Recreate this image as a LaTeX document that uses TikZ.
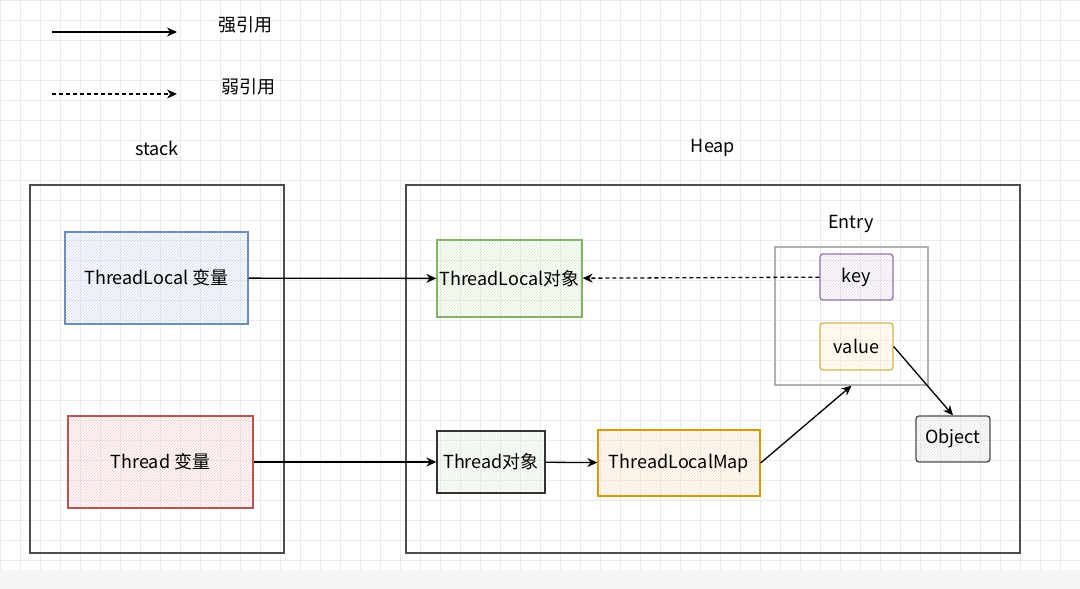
\documentclass[tikz,border=0pt]{standalone}
\usepackage{fontspec}
\setmainfont{Noto Sans CJK SC}
\usetikzlibrary{patterns,arrows.meta}
\begin{document}
\begin{tikzpicture}[x=1pt,y=-1pt,
  txt/.style={font=\fontsize{18}{20}\selectfont},
  box/.style={draw,line width=1.3pt,txt,inner sep=0pt},
  arr/.style={-{Stealth[length=10pt,width=9pt]},line width=1.3pt},
  darr/.style={arr,dash pattern=on 4pt off 3pt}]
\useasboundingbox (0,0) rectangle (1080,589);
\fill[white] (0,0) rectangle (1080,589);
\foreach \i in {0,20,...,1080} \draw[black!8,line width=0.6pt] (\i,0) -- (\i,570);
\foreach \i in {0,20,...,560} \draw[black!8,line width=0.6pt] (0,\i) -- (1080,\i);
\fill[black!4] (0,570) rectangle (1080,589);
% legend
\coordinate (l1a) at (52,32); \coordinate (l1b) at (177,32);
\coordinate (l2a) at (52,94); \coordinate (l2b) at (177,94);
\draw[arr] (l1a) -- (l1b);
\draw[darr] (l2a) -- (l2b);
\node[txt] (t1) at (245,25) {强引用};
\node[txt] (t2) at (248,87) {弱引用};
\node[txt] (stk) at (157,148) {stack};
\node[txt] (hp) at (713,148) {Heap};
% containers
\node[draw=black!70,line width=1.3pt,minimum width=254,minimum height=368] (stack) at (157,369) {};
\node[draw=black!70,line width=1.3pt,minimum width=614,minimum height=368] (heap) at (713,369) {};
\node[draw=black!30,line width=1.3pt,minimum width=153,minimum height=138] (entry) at (851.5,316) {};
\node[txt] (entl) at (851,224) {Entry};
% nodes
\node[box,draw={rgb,255:red,108;green,142;blue,191},pattern=north east lines,pattern color={rgb,255:red,200;green,214;blue,235},minimum width=183,minimum height=92] (tlv) at (156.5,278) {ThreadLocal 变量};
\node[box,draw={rgb,255:red,184;green,84;blue,80},pattern=north east lines,pattern color={rgb,255:red,240;green,200;blue,198},minimum width=185,minimum height=92] (tv) at (160.5,462) {Thread 变量};
\node[box,draw={rgb,255:red,130;green,179;blue,102},pattern=north east lines,pattern color={rgb,255:red,212;green,232;blue,200},minimum width=145,minimum height=77] (tlo) at (509.5,278.5) {ThreadLocal对象};
\node[box,draw=black!80,pattern=north east lines,pattern color={rgb,255:red,220;green,235;blue,215},minimum width=108,minimum height=62] (to) at (491,462) {Thread对象};
\node[box,draw={rgb,255:red,215;green,155;blue,0},pattern=north east lines,pattern color={rgb,255:red,252;green,220;blue,190},minimum width=162,minimum height=66] (map) at (679,463) {ThreadLocalMap};
\node[box,rounded corners=3pt,draw={rgb,255:red,150;green,115;blue,166},pattern=north east lines,pattern color={rgb,255:red,225;green,213;blue,231},minimum width=73,minimum height=46] (key) at (856.5,277) {key};
\node[box,rounded corners=3pt,draw={rgb,255:red,214;green,182;blue,86},pattern=north east lines,pattern color={rgb,255:red,255;green,235;blue,200},minimum width=73,minimum height=47] (val) at (856.5,346.5) {value};
\node[box,rounded corners=3pt,draw=black!70,pattern=north east lines,pattern color=black!12,minimum width=74,minimum height=46] (obj) at (953,439) {Object};
% connectors
\draw[arr] (tlv) -- (tlo);
\draw[darr] (key) -- (tlo);
\draw[arr] (tv) -- (to);
\draw[arr] (to) -- (map);
\draw[arr] (map.east) -- (entry.south);
\draw[arr] (val.east) -- (obj.north);
\end{tikzpicture}
\end{document}
